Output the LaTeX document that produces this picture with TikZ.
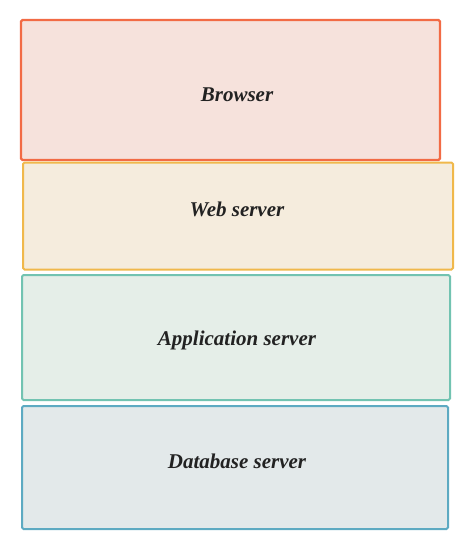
\documentclass[tikz,border=0pt]{standalone}
\usepackage{fontspec}
\setmainfont{Liberation Serif}
\definecolor{brstroke}{HTML}{F26B45}
\definecolor{brfill}{HTML}{F6E2DC}
\definecolor{wbstroke}{HTML}{F0B84B}
\definecolor{wbfill}{HTML}{F5ECDD}
\definecolor{apstroke}{HTML}{72C3B1}
\definecolor{apfill}{HTML}{E5EEE8}
\definecolor{dbstroke}{HTML}{5DAAC2}
\definecolor{dbfill}{HTML}{E3E9EA}
\definecolor{txt}{HTML}{222222}
\tikzset{
  layer/.style={draw, rectangle, line width=2pt, rounded corners=1.5pt, inner sep=0pt},
  label/.style={font=\fontsize{21}{24}\selectfont\bfseries\itshape, text=txt, inner sep=0pt},
}
\begin{document}
\begin{tikzpicture}[x=1pt,y=-1pt]
\useasboundingbox (0,0) rectangle (474,555);
\node[layer, draw=brstroke, fill=brfill, line width=2.4pt, minimum width=419pt, minimum height=140pt] (browser) at (230.5,90) {};
\node[label] (brtext) at (237,95) {Browser};
\node[layer, draw=wbstroke, fill=wbfill, minimum width=430pt, minimum height=107pt] (web) at (238,216) {};
\node[label] (webtext) at (237,209) {Web server};
\node[layer, draw=apstroke, fill=apfill, minimum width=428pt, minimum height=125pt] (app) at (236,337.5) {};
\node[label] (apptext) at (237,340) {Application server};
\node[layer, draw=dbstroke, fill=dbfill, minimum width=426pt, minimum height=123pt] (db) at (235,467.5) {};
\node[label] (dbtext) at (237,461) {Database server};
\end{tikzpicture}
\end{document}
